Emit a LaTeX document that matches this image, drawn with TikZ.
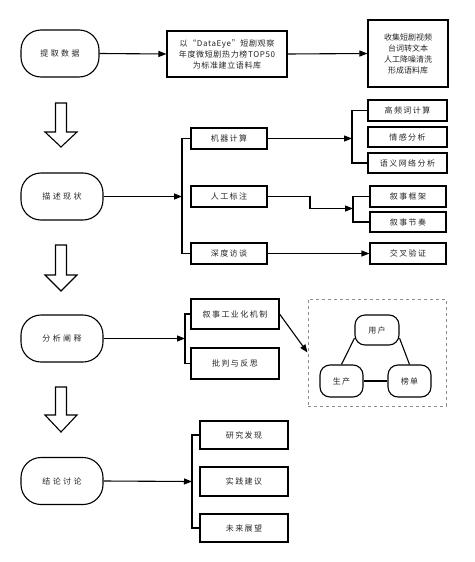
\documentclass[tikz,border=0pt]{standalone}
\usepackage{fontspec}
\setmainfont{Noto Sans CJK SC}
\newfontfamily\spfont{Noto Sans CJK SC}[LetterSpace=18]
\newfontfamily\wsfont{Noto Sans CJK SC}[LetterSpace=30]
\newfontfamily\lsfont{Noto Sans CJK SC}[LetterSpace=8]
\usetikzlibrary{arrows.meta,calc}
\begin{document}
\begin{tikzpicture}[x=1pt,y=-1pt,
  every node/.style={font=\fontsize{8}{11}\selectfont, text=black!85},
  term/.style={draw, line width=1.1pt, rounded corners=20pt, minimum width=82pt, minimum height=47pt, inner sep=0pt, font=\wsfont\fontsize{8}{11}\selectfont},
  box/.style={draw, line width=1.1pt, inner sep=0pt, align=center, font=\spfont\fontsize{8}{11}\selectfont},
  tbox/.style={draw, line width=1.1pt, inner sep=0pt, align=center, font=\fontsize{8}{11}\selectfont},
  soft/.style={draw, line width=1.1pt, rounded corners=10pt, inner sep=0pt, font=\spfont\fontsize{8}{11}\selectfont},
  conn/.style={line width=1.1pt},
  arr/.style={line width=1.1pt, -{Triangle[length=8pt,width=6pt]}},
  blockarrow/.style={draw, line width=1.1pt, fill=white}]
\useasboundingbox (0,0) rectangle (474,562);
\fill[white] (0,0) rectangle (474,562);

% terminals
\node[term, minimum width=78pt] (t1) at (60,53.5) {提取数据};
\node[term] (t2) at (62,196.5) {描述现状};
\node[term] (t3) at (62,338.5) {分析阐释};
\node[term] (t4) at (62,481) {结论讨论};

% block arrows
\draw[blockarrow] (55.5,103) -- (66.5,103) -- (66.5,132) -- (77,132) -- (61,147) -- (45,132) -- (55.5,132) -- cycle;
\draw[blockarrow] (55.5,245) -- (66.5,245) -- (66.5,275) -- (77,275) -- (61,291) -- (45,275) -- (55.5,275) -- cycle;
\draw[blockarrow] (55.5,387) -- (66.5,387) -- (66.5,415) -- (77,415) -- (61,432) -- (45,415) -- (55.5,415) -- cycle;

% top row
\node[tbox, minimum width=120pt, minimum height=46pt, font=\lsfont\fontsize{8}{11}\selectfont] (b1) at (227,54) {以“DataEye”短剧观察\\年度微短剧热力榜TOP50\\为标准建立语料库};
\node[tbox, minimum width=80pt, minimum height=67pt] (b2) at (408,53.5) {收集短剧视频\\台词转文本\\人工降噪清洗\\形成语料库};
\draw[arr] (t1.east) -- (b1.west);
\draw[arr] (b1.east) -- (b2.west);

% describe
\node[box, minimum width=76pt, minimum height=21pt] (m1) at (229,138.5) {机器计算};
\node[box, minimum width=76pt, minimum height=21pt] (m2) at (229,196.5) {人工标注};
\node[box, minimum width=76pt, minimum height=21pt] (m3) at (229,253.5) {深度访谈};
\coordinate (br1) at (182,196.5);
\draw[arr] (t2.east) -- (br1);
\draw[conn] (m1.west) -| (182,196.5) |- (m3.west);

\node[box, minimum width=79pt, minimum height=21pt] (r1) at (407.5,110.5) {高频词计算};
\node[box, minimum width=79pt, minimum height=20pt] (r2) at (407.5,137) {情感分析};
\node[box, minimum width=79pt, minimum height=20pt] (r3) at (407.5,163) {语义网络分析};
\coordinate (br2) at (352,138.5);
\draw[arr] (m1.east) -- (br2);
\draw[conn] (r1.west) -| (br2) |- (r3.west);

\node[box, minimum width=76pt, minimum height=21pt] (r4) at (408,196.5) {叙事框架};
\node[box, minimum width=76pt, minimum height=20pt] (r5) at (408,222) {叙事节奏};
\coordinate (br3) at (353,208.5);
\draw[arr] (m2.east) -- (310,196.5) -- (310,208.5) -- (br3);
\draw[conn] (r4.west) -| (br3) |- (r5.west);

\node[box, minimum width=76pt, minimum height=21pt] (r6) at (408,253.5) {交叉验证};
\draw[arr] (m3.east) -- (r6.west);

% analysis
\node[box, minimum width=88pt, minimum height=30pt] (a1) at (235,314) {叙事工业化机制};
\node[box, minimum width=88pt, minimum height=31pt] (a2) at (235,363.5) {批判与反思};
\coordinate (br4) at (185,338.5);
\draw[arr] (t3.east) -- (br4);
\draw[conn] (a1.west) -| (br4) |- (a2.west);

\node[draw=black!45, dashed, line width=1pt, minimum width=138pt, minimum height=107pt] (db) at (377,352.5) {};
\draw[arr] (a1.east) -- (db.west);
\node[soft, minimum width=44pt, minimum height=30pt] (u) at (377,330) {用户};
\node[soft, minimum width=43pt, minimum height=32pt] (p) at (341.5,381) {生产};
\node[soft, minimum width=43pt, minimum height=32pt] (l) at (409.5,381) {榜单};
\draw[conn] (u.200) -- (p.north);
\draw[conn] (u.-20) -- (l.north);
\draw[conn] (p.east) -- (l.west);

% conclusion
\node[box, minimum width=88pt, minimum height=28pt] (c1) at (244,435) {研究发现};
\node[box, minimum width=88pt, minimum height=29pt] (c2) at (244,481.5) {实践建议};
\node[box, minimum width=88pt, minimum height=28pt] (c3) at (244,528) {未来展望};
\coordinate (br5) at (192,481.5);
\draw[arr] (t4.east) -- (br5);
\draw[conn] (c1.west) -| (br5) |- (c3.west);
\end{tikzpicture}
\end{document}
